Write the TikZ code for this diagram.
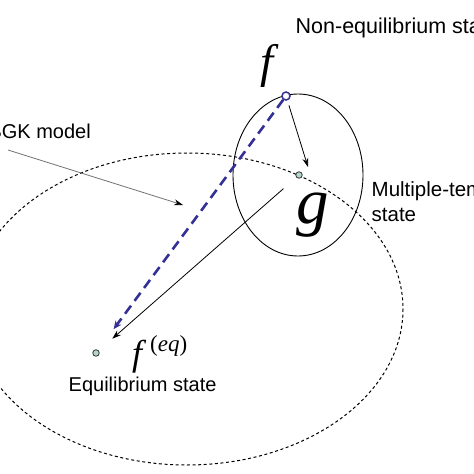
\documentclass[tikz,border=0pt]{standalone}
\usepackage{fontspec}
\setmainfont{Liberation Sans}
\newfontfamily\tnr{Liberation Serif}
\usetikzlibrary{arrows.meta}
\definecolor{navyline}{RGB}{52,48,150}
\definecolor{dotfill}{RGB}{178,214,204}
\tikzset{
  lbl/.style={inner sep=0pt, font=\fontsize{20}{24}\selectfont},
  dotnode/.style={circle, draw=black!80, fill=dotfill, line width=0.8pt, minimum size=6.5pt, inner sep=0pt},
  fdot/.style={circle, draw=navyline, fill=white, line width=1.5pt, minimum size=8pt, inner sep=0pt},
  blk/.style={draw=black, line width=0.8pt, -{Stealth[length=9pt,width=6pt]}},
  bluedash/.style={draw=navyline, line width=2.6pt, dash pattern=on 10pt off 6pt, -{Stealth[length=8pt,width=7pt,inset=2pt]}},
  dotted2/.style={draw=black, line width=1pt, dash pattern=on 3pt off 2.6pt},
}
\begin{document}
\begin{tikzpicture}[x=1pt,y=-1pt]
\useasboundingbox (0,0) rectangle (474,474);
\clip (0,0) rectangle (474,474);
% ellipses
\draw[dotted2] (187,309) ellipse [x radius=216, y radius=156];
\draw[black, line width=0.9pt] (298,175) ellipse [x radius=65, y radius=81];
% points
\node[fdot] (f) at (286,96) {};
\node[dotnode] (g) at (299,175) {};
\node[dotnode] (eq) at (96,353) {};
% labels
\node[inner sep=0pt, anchor=base, font=\tnr\itshape\fontsize{47}{50}\selectfont] (flab) at (267,77) {f};
\node[inner sep=0pt, anchor=base, font=\tnr\itshape\fontsize{65}{70}\selectfont] (glab) at (313,223) {g};
\node[inner sep=0pt, anchor=base, font=\tnr\itshape\fontsize{36}{40}\selectfont] (feqlab) at (137,365) {f};
\node[inner sep=0pt, anchor=base west, font=\tnr\fontsize{23}{26}\selectfont] (eqsup) at (150,351) {(\textit{eq})};
\node[lbl, anchor=base west, font=\fontsize{21.5}{25}\selectfont] (noneq) at (295.5,33) {Non-equilibrium state};
\node[lbl, anchor=base west, font=\fontsize{20.5}{25}\selectfont] (mult) at (371.5,196) {Multiple-temperature};
\node[lbl, anchor=base west, font=\fontsize{20.5}{25}\selectfont] (mult2) at (371.5,221) {state};
\node[lbl, anchor=base west] (eqstate) at (68.5,391) {Equilibrium state};
\node[lbl, anchor=base east] (bgk) at (91,138) {BGK model};
% connectors
\coordinate (gk1) at (8,150);
\coordinate (gk2) at (183,205);
\coordinate (gtip) at (308,167);
\draw[draw=black!55, line width=0.8pt, -{Stealth[length=9pt,width=6pt,black]}] (gk1) -- (gk2);
\draw[blk, shorten <=5pt] (f) -- (gtip);
\draw[blk, shorten <=17pt, shorten >=18pt] (g) -- (eq);
\draw[bluedash, shorten >=26pt] (f) -- (eq);
\end{tikzpicture}
\end{document}
